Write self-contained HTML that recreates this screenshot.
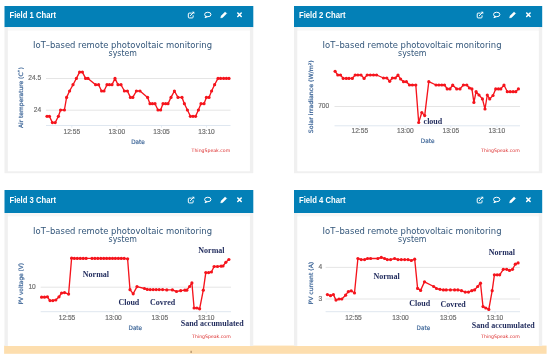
<!DOCTYPE html>
<html><head><meta charset="utf-8"><title>IoT-based remote photovoltaic monitoring system</title>
<style>html,body{margin:0;padding:0;background:#fff;overflow:hidden}svg{display:block;filter:blur(0.45px)}</style></head>
<body>
<svg width="550" height="359" viewBox="0 0 550 359">

<rect width="550" height="359" fill="#fff"/>
<rect x="4.1" y="345.6" width="542.5" height="8.2" fill="#fddeae"/>
<rect x="190.6" y="350.8" width="1" height="2.2" fill="#9a7a58"/>
<rect x="4.5" y="6.0" width="248.8" height="21.2" fill="#0380b7"/>
<rect x="4.5" y="27.2" width="248.8" height="146" fill="#f0f0f0"/>
<rect x="7.9" y="27.2" width="242.0" height="144" fill="#f7f7f7"/>
<rect x="7.9" y="30.599999999999998" width="242.0" height="140.6" fill="#fff"/>
<text x="9.5" y="17.6" font-family="'Liberation Sans', 'DejaVu Sans', sans-serif" font-weight="bold" font-size="8.2" fill="#fff" textLength="46.5" lengthAdjust="spacingAndGlyphs">Field 1 Chart</text>
<g transform="translate(190.90,15.00) scale(0.86)"><g fill="none" stroke="#fff" stroke-width="1.15" stroke-linecap="round" stroke-linejoin="round"><path d="M0.6,-2.2 h-2.6 a1,1 0 0 0 -1,1 v3.6 a1,1 0 0 0 1,1 h3.6 a1,1 0 0 0 1,-1 v-1.6"/><path d="M-0.6,0.8 L3.2,-3"/></g><path d="M1.0,-3.8 h3 v3 z" fill="#fff"/></g><g transform="translate(207.80,15.00) scale(0.86)"><g fill="none" stroke="#fff" stroke-width="1.15" stroke-linejoin="round"><ellipse cx="0" cy="-0.6" rx="3.7" ry="2.6"/><path d="M-2.2,1.4 L-3.2,3.2 L-0.4,2"/></g></g><g transform="translate(223.60,15.00) scale(0.86)"><path d="M-3.4,3.4 l0.6,-2.4 l4.6,-4.6 l1.8,1.8 l-4.6,4.6 z" fill="#fff" stroke="#fff" stroke-width="0.5" stroke-linejoin="round"/></g><g transform="translate(239.50,15.00) scale(0.86)"><path d="M-2,-2.3 L2,1.7 M2,-2.3 L-2,1.7" stroke="#fff" stroke-width="1.8" stroke-linecap="round"/></g>
<rect x="294.0" y="6.0" width="248.2" height="21.2" fill="#0380b7"/>
<rect x="294.0" y="27.2" width="248.2" height="146" fill="#f0f0f0"/>
<rect x="297.4" y="27.2" width="241.39999999999998" height="144" fill="#f7f7f7"/>
<rect x="297.4" y="30.599999999999998" width="241.39999999999998" height="140.6" fill="#fff"/>
<text x="299.0" y="17.6" font-family="'Liberation Sans', 'DejaVu Sans', sans-serif" font-weight="bold" font-size="8.2" fill="#fff" textLength="46.5" lengthAdjust="spacingAndGlyphs">Field 2 Chart</text>
<g transform="translate(479.80,15.00) scale(0.86)"><g fill="none" stroke="#fff" stroke-width="1.15" stroke-linecap="round" stroke-linejoin="round"><path d="M0.6,-2.2 h-2.6 a1,1 0 0 0 -1,1 v3.6 a1,1 0 0 0 1,1 h3.6 a1,1 0 0 0 1,-1 v-1.6"/><path d="M-0.6,0.8 L3.2,-3"/></g><path d="M1.0,-3.8 h3 v3 z" fill="#fff"/></g><g transform="translate(496.70,15.00) scale(0.86)"><g fill="none" stroke="#fff" stroke-width="1.15" stroke-linejoin="round"><ellipse cx="0" cy="-0.6" rx="3.7" ry="2.6"/><path d="M-2.2,1.4 L-3.2,3.2 L-0.4,2"/></g></g><g transform="translate(512.50,15.00) scale(0.86)"><path d="M-3.4,3.4 l0.6,-2.4 l4.6,-4.6 l1.8,1.8 l-4.6,4.6 z" fill="#fff" stroke="#fff" stroke-width="0.5" stroke-linejoin="round"/></g><g transform="translate(528.40,15.00) scale(0.86)"><path d="M-2,-2.3 L2,1.7 M2,-2.3 L-2,1.7" stroke="#fff" stroke-width="1.8" stroke-linecap="round"/></g>
<rect x="4.5" y="190" width="248.8" height="23" fill="#0380b7"/>
<rect x="4.5" y="213" width="248.8" height="133" fill="#f0f0f0"/>
<rect x="7.9" y="213" width="242.0" height="133" fill="#f7f7f7"/>
<rect x="7.9" y="216.4" width="242.0" height="129.6" fill="#fff"/>
<text x="9.5" y="202.9" font-family="'Liberation Sans', 'DejaVu Sans', sans-serif" font-weight="bold" font-size="8.2" fill="#fff" textLength="46.5" lengthAdjust="spacingAndGlyphs">Field 3 Chart</text>
<g transform="translate(190.90,200.00) scale(0.86)"><g fill="none" stroke="#fff" stroke-width="1.15" stroke-linecap="round" stroke-linejoin="round"><path d="M0.6,-2.2 h-2.6 a1,1 0 0 0 -1,1 v3.6 a1,1 0 0 0 1,1 h3.6 a1,1 0 0 0 1,-1 v-1.6"/><path d="M-0.6,0.8 L3.2,-3"/></g><path d="M1.0,-3.8 h3 v3 z" fill="#fff"/></g><g transform="translate(207.80,200.00) scale(0.86)"><g fill="none" stroke="#fff" stroke-width="1.15" stroke-linejoin="round"><ellipse cx="0" cy="-0.6" rx="3.7" ry="2.6"/><path d="M-2.2,1.4 L-3.2,3.2 L-0.4,2"/></g></g><g transform="translate(223.60,200.00) scale(0.86)"><path d="M-3.4,3.4 l0.6,-2.4 l4.6,-4.6 l1.8,1.8 l-4.6,4.6 z" fill="#fff" stroke="#fff" stroke-width="0.5" stroke-linejoin="round"/></g><g transform="translate(239.50,200.00) scale(0.86)"><path d="M-2,-2.3 L2,1.7 M2,-2.3 L-2,1.7" stroke="#fff" stroke-width="1.8" stroke-linecap="round"/></g>
<rect x="294.0" y="190" width="248.2" height="23" fill="#0380b7"/>
<rect x="294.0" y="213" width="248.2" height="133" fill="#f0f0f0"/>
<rect x="297.4" y="213" width="241.39999999999998" height="133" fill="#f7f7f7"/>
<rect x="297.4" y="216.4" width="241.39999999999998" height="129.6" fill="#fff"/>
<text x="299.0" y="202.9" font-family="'Liberation Sans', 'DejaVu Sans', sans-serif" font-weight="bold" font-size="8.2" fill="#fff" textLength="46.5" lengthAdjust="spacingAndGlyphs">Field 4 Chart</text>
<g transform="translate(479.80,200.00) scale(0.86)"><g fill="none" stroke="#fff" stroke-width="1.15" stroke-linecap="round" stroke-linejoin="round"><path d="M0.6,-2.2 h-2.6 a1,1 0 0 0 -1,1 v3.6 a1,1 0 0 0 1,1 h3.6 a1,1 0 0 0 1,-1 v-1.6"/><path d="M-0.6,0.8 L3.2,-3"/></g><path d="M1.0,-3.8 h3 v3 z" fill="#fff"/></g><g transform="translate(496.70,200.00) scale(0.86)"><g fill="none" stroke="#fff" stroke-width="1.15" stroke-linejoin="round"><ellipse cx="0" cy="-0.6" rx="3.7" ry="2.6"/><path d="M-2.2,1.4 L-3.2,3.2 L-0.4,2"/></g></g><g transform="translate(512.50,200.00) scale(0.86)"><path d="M-3.4,3.4 l0.6,-2.4 l4.6,-4.6 l1.8,1.8 l-4.6,4.6 z" fill="#fff" stroke="#fff" stroke-width="0.5" stroke-linejoin="round"/></g><g transform="translate(528.40,200.00) scale(0.86)"><path d="M-2,-2.3 L2,1.7 M2,-2.3 L-2,1.7" stroke="#fff" stroke-width="1.8" stroke-linecap="round"/></g>
<path d="M46,78.5 H230.5" stroke="#dedede" stroke-width="0.8"/>
<text x="41.1" y="80.4" text-anchor="end" font-family="'Liberation Sans', 'DejaVu Sans', sans-serif" font-size="6.9" fill="#707070" stroke="#707070" stroke-width="0.2" textLength="12.89" lengthAdjust="spacingAndGlyphs">24.5</text>
<path d="M46,110.2 H230.5" stroke="#dedede" stroke-width="0.8"/>
<text x="41.1" y="112.10000000000001" text-anchor="end" font-family="'Liberation Sans', 'DejaVu Sans', sans-serif" font-size="6.9" fill="#707070" stroke="#707070" stroke-width="0.2" textLength="7.37" lengthAdjust="spacingAndGlyphs">24</text>
<path d="M46,125.5 H230.5" stroke="#dbe4ee" stroke-width="0.9"/>
<text x="71.8" y="133.67" text-anchor="middle" font-family="'Liberation Sans', 'DejaVu Sans', sans-serif" font-size="6.9" fill="#707070" stroke="#707070" stroke-width="0.2" textLength="16.57" lengthAdjust="spacingAndGlyphs">12:55</text>
<path d="M71.8,125.5 v2" stroke="#dbe4ee" stroke-width="0.7"/>
<text x="116.8" y="133.67" text-anchor="middle" font-family="'Liberation Sans', 'DejaVu Sans', sans-serif" font-size="6.9" fill="#707070" stroke="#707070" stroke-width="0.2" textLength="16.57" lengthAdjust="spacingAndGlyphs">13:00</text>
<path d="M116.8,125.5 v2" stroke="#dbe4ee" stroke-width="0.7"/>
<text x="161.5" y="133.67" text-anchor="middle" font-family="'Liberation Sans', 'DejaVu Sans', sans-serif" font-size="6.9" fill="#707070" stroke="#707070" stroke-width="0.2" textLength="16.57" lengthAdjust="spacingAndGlyphs">13:05</text>
<path d="M161.5,125.5 v2" stroke="#dbe4ee" stroke-width="0.7"/>
<text x="206.5" y="133.67" text-anchor="middle" font-family="'Liberation Sans', 'DejaVu Sans', sans-serif" font-size="6.9" fill="#707070" stroke="#707070" stroke-width="0.2" textLength="16.57" lengthAdjust="spacingAndGlyphs">13:10</text>
<path d="M206.5,125.5 v2" stroke="#dbe4ee" stroke-width="0.7"/>
<text x="122.5" y="48.0" text-anchor="middle" font-family="'DejaVu Sans', 'Liberation Sans', sans-serif" font-size="8.5" fill="#33567a" textLength="179" lengthAdjust="spacingAndGlyphs">IoT–based remote photovoltaic monitoring</text>
<text x="122.8" y="56.2" text-anchor="middle" font-family="'DejaVu Sans', 'Liberation Sans', sans-serif" font-size="8.5" fill="#33567a" textLength="28.4" lengthAdjust="spacingAndGlyphs">system</text>
<text x="138" y="143.6" text-anchor="middle" font-family="'DejaVu Sans', 'Liberation Sans', sans-serif" font-size="6.2" fill="#41699a" stroke="#41699a" stroke-width="0.2" textLength="13.6" lengthAdjust="spacingAndGlyphs">Date</text>
<text x="230.2" y="152.0" text-anchor="end" font-family="'DejaVu Sans', 'Liberation Sans', sans-serif" font-size="4.6" fill="#dc2a2a" textLength="38.6" lengthAdjust="spacingAndGlyphs">ThingSpeak.com</text>
<text transform="translate(23.1,97.6) rotate(-90)" text-anchor="middle" font-family="'DejaVu Sans', 'Liberation Sans', sans-serif" font-size="5.9" fill="#41699a" stroke="#41699a" stroke-width="0.22" textLength="60.8" lengthAdjust="spacingAndGlyphs">Air temperature (C˚)</text>
<polyline points="47.0,116.3 49.4,116.3 52.4,122.6 55.2,122.6 58.4,116.3 60.6,110.0 64.4,110.0 66.6,97.4 69.6,91.0 73.0,84.7 76.4,78.4 79.6,72.1 82.4,72.1 85.6,78.4 88.0,78.4 95.6,84.7 98.6,84.7 101.6,91.0 104.0,91.0 107.0,84.7 109.4,84.7 112.0,84.7 115.0,78.4 118.0,84.7 121.0,84.7 124.4,91.0 127.4,91.0 130.4,97.4 132.8,97.4 136.4,91.0 140.0,91.0 147.6,97.4 150.0,103.7 152.4,103.7 155.0,103.7 158.0,110.0 160.6,110.0 163.0,103.7 165.6,103.7 168.0,103.7 171.0,97.4 174.4,91.0 178.0,97.4 182.0,97.4 184.4,103.7 187.4,110.0 190.4,116.3 193.0,116.3 195.6,116.3 198.4,110.0 201.0,103.7 204.0,103.7 206.4,97.4 209.0,97.4 211.6,91.0 214.6,84.7 218.0,78.4 220.6,78.4 223.6,78.4 226.4,78.4 229.0,78.4" fill="none" stroke="#f5141c" stroke-width="1.35" stroke-linejoin="round" stroke-linecap="round"/>
<circle cx="47.0" cy="116.3" r="1.6" fill="#f5141c"/>
<circle cx="49.4" cy="116.3" r="1.6" fill="#f5141c"/>
<circle cx="52.4" cy="122.6" r="1.6" fill="#f5141c"/>
<circle cx="55.2" cy="122.6" r="1.6" fill="#f5141c"/>
<circle cx="58.4" cy="116.3" r="1.6" fill="#f5141c"/>
<circle cx="60.6" cy="110.0" r="1.6" fill="#f5141c"/>
<circle cx="64.4" cy="110.0" r="1.6" fill="#f5141c"/>
<circle cx="66.6" cy="97.4" r="1.6" fill="#f5141c"/>
<circle cx="69.6" cy="91.0" r="1.6" fill="#f5141c"/>
<circle cx="73.0" cy="84.7" r="1.6" fill="#f5141c"/>
<circle cx="76.4" cy="78.4" r="1.6" fill="#f5141c"/>
<circle cx="79.6" cy="72.1" r="1.6" fill="#f5141c"/>
<circle cx="82.4" cy="72.1" r="1.6" fill="#f5141c"/>
<circle cx="85.6" cy="78.4" r="1.6" fill="#f5141c"/>
<circle cx="88.0" cy="78.4" r="1.6" fill="#f5141c"/>
<circle cx="95.6" cy="84.7" r="1.6" fill="#f5141c"/>
<circle cx="98.6" cy="84.7" r="1.6" fill="#f5141c"/>
<circle cx="101.6" cy="91.0" r="1.6" fill="#f5141c"/>
<circle cx="104.0" cy="91.0" r="1.6" fill="#f5141c"/>
<circle cx="107.0" cy="84.7" r="1.6" fill="#f5141c"/>
<circle cx="109.4" cy="84.7" r="1.6" fill="#f5141c"/>
<circle cx="112.0" cy="84.7" r="1.6" fill="#f5141c"/>
<circle cx="115.0" cy="78.4" r="1.6" fill="#f5141c"/>
<circle cx="118.0" cy="84.7" r="1.6" fill="#f5141c"/>
<circle cx="121.0" cy="84.7" r="1.6" fill="#f5141c"/>
<circle cx="124.4" cy="91.0" r="1.6" fill="#f5141c"/>
<circle cx="127.4" cy="91.0" r="1.6" fill="#f5141c"/>
<circle cx="130.4" cy="97.4" r="1.6" fill="#f5141c"/>
<circle cx="132.8" cy="97.4" r="1.6" fill="#f5141c"/>
<circle cx="136.4" cy="91.0" r="1.6" fill="#f5141c"/>
<circle cx="140.0" cy="91.0" r="1.6" fill="#f5141c"/>
<circle cx="147.6" cy="97.4" r="1.6" fill="#f5141c"/>
<circle cx="150.0" cy="103.7" r="1.6" fill="#f5141c"/>
<circle cx="152.4" cy="103.7" r="1.6" fill="#f5141c"/>
<circle cx="155.0" cy="103.7" r="1.6" fill="#f5141c"/>
<circle cx="158.0" cy="110.0" r="1.6" fill="#f5141c"/>
<circle cx="160.6" cy="110.0" r="1.6" fill="#f5141c"/>
<circle cx="163.0" cy="103.7" r="1.6" fill="#f5141c"/>
<circle cx="165.6" cy="103.7" r="1.6" fill="#f5141c"/>
<circle cx="168.0" cy="103.7" r="1.6" fill="#f5141c"/>
<circle cx="171.0" cy="97.4" r="1.6" fill="#f5141c"/>
<circle cx="174.4" cy="91.0" r="1.6" fill="#f5141c"/>
<circle cx="178.0" cy="97.4" r="1.6" fill="#f5141c"/>
<circle cx="182.0" cy="97.4" r="1.6" fill="#f5141c"/>
<circle cx="184.4" cy="103.7" r="1.6" fill="#f5141c"/>
<circle cx="187.4" cy="110.0" r="1.6" fill="#f5141c"/>
<circle cx="190.4" cy="116.3" r="1.6" fill="#f5141c"/>
<circle cx="193.0" cy="116.3" r="1.6" fill="#f5141c"/>
<circle cx="195.6" cy="116.3" r="1.6" fill="#f5141c"/>
<circle cx="198.4" cy="110.0" r="1.6" fill="#f5141c"/>
<circle cx="201.0" cy="103.7" r="1.6" fill="#f5141c"/>
<circle cx="204.0" cy="103.7" r="1.6" fill="#f5141c"/>
<circle cx="206.4" cy="97.4" r="1.6" fill="#f5141c"/>
<circle cx="209.0" cy="97.4" r="1.6" fill="#f5141c"/>
<circle cx="211.6" cy="91.0" r="1.6" fill="#f5141c"/>
<circle cx="214.6" cy="84.7" r="1.6" fill="#f5141c"/>
<circle cx="218.0" cy="78.4" r="1.6" fill="#f5141c"/>
<circle cx="220.6" cy="78.4" r="1.6" fill="#f5141c"/>
<circle cx="223.6" cy="78.4" r="1.6" fill="#f5141c"/>
<circle cx="226.4" cy="78.4" r="1.6" fill="#f5141c"/>
<circle cx="229.0" cy="78.4" r="1.6" fill="#f5141c"/>
<path d="M334.5,106.5 H520" stroke="#dedede" stroke-width="0.8"/>
<text x="329.20000000000005" y="108.4" text-anchor="end" font-family="'Liberation Sans', 'DejaVu Sans', sans-serif" font-size="6.9" fill="#707070" stroke="#707070" stroke-width="0.2" textLength="11.05" lengthAdjust="spacingAndGlyphs">700</text>
<path d="M334.5,125.8 H520" stroke="#dbe4ee" stroke-width="0.9"/>
<text x="359.8" y="133.47" text-anchor="middle" font-family="'Liberation Sans', 'DejaVu Sans', sans-serif" font-size="6.9" fill="#707070" stroke="#707070" stroke-width="0.2" textLength="16.57" lengthAdjust="spacingAndGlyphs">12:55</text>
<path d="M359.8,125.8 v2" stroke="#dbe4ee" stroke-width="0.7"/>
<text x="405.3" y="133.47" text-anchor="middle" font-family="'Liberation Sans', 'DejaVu Sans', sans-serif" font-size="6.9" fill="#707070" stroke="#707070" stroke-width="0.2" textLength="16.57" lengthAdjust="spacingAndGlyphs">13:00</text>
<path d="M405.3,125.8 v2" stroke="#dbe4ee" stroke-width="0.7"/>
<text x="450.8" y="133.47" text-anchor="middle" font-family="'Liberation Sans', 'DejaVu Sans', sans-serif" font-size="6.9" fill="#707070" stroke="#707070" stroke-width="0.2" textLength="16.57" lengthAdjust="spacingAndGlyphs">13:05</text>
<path d="M450.8,125.8 v2" stroke="#dbe4ee" stroke-width="0.7"/>
<text x="496.9" y="133.47" text-anchor="middle" font-family="'Liberation Sans', 'DejaVu Sans', sans-serif" font-size="6.9" fill="#707070" stroke="#707070" stroke-width="0.2" textLength="16.57" lengthAdjust="spacingAndGlyphs">13:10</text>
<path d="M496.9,125.8 v2" stroke="#dbe4ee" stroke-width="0.7"/>
<text x="412" y="48.0" text-anchor="middle" font-family="'DejaVu Sans', 'Liberation Sans', sans-serif" font-size="8.5" fill="#33567a" textLength="179" lengthAdjust="spacingAndGlyphs">IoT–based remote photovoltaic monitoring</text>
<text x="412.3" y="56.2" text-anchor="middle" font-family="'DejaVu Sans', 'Liberation Sans', sans-serif" font-size="8.5" fill="#33567a" textLength="28.4" lengthAdjust="spacingAndGlyphs">system</text>
<text x="427.6" y="143.4" text-anchor="middle" font-family="'DejaVu Sans', 'Liberation Sans', sans-serif" font-size="6.2" fill="#41699a" stroke="#41699a" stroke-width="0.2" textLength="13.6" lengthAdjust="spacingAndGlyphs">Date</text>
<text x="519.7" y="152.3" text-anchor="end" font-family="'DejaVu Sans', 'Liberation Sans', sans-serif" font-size="4.6" fill="#dc2a2a" textLength="38.6" lengthAdjust="spacingAndGlyphs">ThingSpeak.com</text>
<text transform="translate(313.0,96.7) rotate(-90)" text-anchor="middle" font-family="'DejaVu Sans', 'Liberation Sans', sans-serif" font-size="5.9" fill="#41699a" stroke="#41699a" stroke-width="0.22" textLength="73" lengthAdjust="spacingAndGlyphs">Solar irradiance (W/m²)</text>
<polyline points="335.1,71.3 337.8,75.0 340.5,75.0 343.2,78.4 346.3,78.4 349.0,78.4 352.3,78.4 355.2,75.0 357.9,75.0 361.0,75.0 364.1,78.4 367.2,75.0 370.3,75.0 373.5,75.0 376.6,75.0 383.5,78.0 386.8,78.0 389.7,81.3 392.4,78.0 395.3,78.0 398.0,75.0 400.6,79.0 403.5,81.7 406.4,81.7 409.5,85.0 412.4,85.0 415.8,85.0 418.7,122.5 421.8,112.5 424.7,115.6 428.8,81.7 436.0,85.0 438.9,85.0 441.8,85.0 444.5,85.0 447.2,88.9 450.0,88.9 452.7,85.0 456.7,88.9 460.0,88.9 463.4,85.0 466.8,85.0 469.4,88.0 471.9,88.9 473.9,102.4 476.1,91.7 479.0,95.0 482.4,98.9 485.0,109.0 487.3,95.0 489.7,98.9 493.0,95.5 495.7,88.9 498.4,88.9 500.8,88.9 504.0,85.0 507.3,91.7 510.2,91.7 513.1,91.7 515.8,91.7 518.4,88.9" fill="none" stroke="#f5141c" stroke-width="1.35" stroke-linejoin="round" stroke-linecap="round"/>
<circle cx="335.1" cy="71.3" r="1.6" fill="#f5141c"/>
<circle cx="337.8" cy="75.0" r="1.6" fill="#f5141c"/>
<circle cx="340.5" cy="75.0" r="1.6" fill="#f5141c"/>
<circle cx="343.2" cy="78.4" r="1.6" fill="#f5141c"/>
<circle cx="346.3" cy="78.4" r="1.6" fill="#f5141c"/>
<circle cx="349.0" cy="78.4" r="1.6" fill="#f5141c"/>
<circle cx="352.3" cy="78.4" r="1.6" fill="#f5141c"/>
<circle cx="355.2" cy="75.0" r="1.6" fill="#f5141c"/>
<circle cx="357.9" cy="75.0" r="1.6" fill="#f5141c"/>
<circle cx="361.0" cy="75.0" r="1.6" fill="#f5141c"/>
<circle cx="364.1" cy="78.4" r="1.6" fill="#f5141c"/>
<circle cx="367.2" cy="75.0" r="1.6" fill="#f5141c"/>
<circle cx="370.3" cy="75.0" r="1.6" fill="#f5141c"/>
<circle cx="373.5" cy="75.0" r="1.6" fill="#f5141c"/>
<circle cx="376.6" cy="75.0" r="1.6" fill="#f5141c"/>
<circle cx="383.5" cy="78.0" r="1.6" fill="#f5141c"/>
<circle cx="386.8" cy="78.0" r="1.6" fill="#f5141c"/>
<circle cx="389.7" cy="81.3" r="1.6" fill="#f5141c"/>
<circle cx="392.4" cy="78.0" r="1.6" fill="#f5141c"/>
<circle cx="395.3" cy="78.0" r="1.6" fill="#f5141c"/>
<circle cx="398.0" cy="75.0" r="1.6" fill="#f5141c"/>
<circle cx="400.6" cy="79.0" r="1.6" fill="#f5141c"/>
<circle cx="403.5" cy="81.7" r="1.6" fill="#f5141c"/>
<circle cx="406.4" cy="81.7" r="1.6" fill="#f5141c"/>
<circle cx="409.5" cy="85.0" r="1.6" fill="#f5141c"/>
<circle cx="412.4" cy="85.0" r="1.6" fill="#f5141c"/>
<circle cx="415.8" cy="85.0" r="1.6" fill="#f5141c"/>
<circle cx="418.7" cy="122.5" r="1.6" fill="#f5141c"/>
<circle cx="421.8" cy="112.5" r="1.6" fill="#f5141c"/>
<circle cx="424.7" cy="115.6" r="1.6" fill="#f5141c"/>
<circle cx="428.8" cy="81.7" r="1.6" fill="#f5141c"/>
<circle cx="436.0" cy="85.0" r="1.6" fill="#f5141c"/>
<circle cx="438.9" cy="85.0" r="1.6" fill="#f5141c"/>
<circle cx="441.8" cy="85.0" r="1.6" fill="#f5141c"/>
<circle cx="444.5" cy="85.0" r="1.6" fill="#f5141c"/>
<circle cx="447.2" cy="88.9" r="1.6" fill="#f5141c"/>
<circle cx="450.0" cy="88.9" r="1.6" fill="#f5141c"/>
<circle cx="452.7" cy="85.0" r="1.6" fill="#f5141c"/>
<circle cx="456.7" cy="88.9" r="1.6" fill="#f5141c"/>
<circle cx="460.0" cy="88.9" r="1.6" fill="#f5141c"/>
<circle cx="463.4" cy="85.0" r="1.6" fill="#f5141c"/>
<circle cx="466.8" cy="85.0" r="1.6" fill="#f5141c"/>
<circle cx="469.4" cy="88.0" r="1.6" fill="#f5141c"/>
<circle cx="471.9" cy="88.9" r="1.6" fill="#f5141c"/>
<circle cx="473.9" cy="102.4" r="1.6" fill="#f5141c"/>
<circle cx="476.1" cy="91.7" r="1.6" fill="#f5141c"/>
<circle cx="479.0" cy="95.0" r="1.6" fill="#f5141c"/>
<circle cx="482.4" cy="98.9" r="1.6" fill="#f5141c"/>
<circle cx="485.0" cy="109.0" r="1.6" fill="#f5141c"/>
<circle cx="487.3" cy="95.0" r="1.6" fill="#f5141c"/>
<circle cx="489.7" cy="98.9" r="1.6" fill="#f5141c"/>
<circle cx="493.0" cy="95.5" r="1.6" fill="#f5141c"/>
<circle cx="495.7" cy="88.9" r="1.6" fill="#f5141c"/>
<circle cx="498.4" cy="88.9" r="1.6" fill="#f5141c"/>
<circle cx="500.8" cy="88.9" r="1.6" fill="#f5141c"/>
<circle cx="504.0" cy="85.0" r="1.6" fill="#f5141c"/>
<circle cx="507.3" cy="91.7" r="1.6" fill="#f5141c"/>
<circle cx="510.2" cy="91.7" r="1.6" fill="#f5141c"/>
<circle cx="513.1" cy="91.7" r="1.6" fill="#f5141c"/>
<circle cx="515.8" cy="91.7" r="1.6" fill="#f5141c"/>
<circle cx="518.4" cy="88.9" r="1.6" fill="#f5141c"/>
<path d="M40.7,287.2 H231" stroke="#dedede" stroke-width="0.8"/>
<text x="35.800000000000004" y="289.09999999999997" text-anchor="end" font-family="'Liberation Sans', 'DejaVu Sans', sans-serif" font-size="6.9" fill="#707070" stroke="#707070" stroke-width="0.2" textLength="7.37" lengthAdjust="spacingAndGlyphs">10</text>
<path d="M40.7,311.7 H231" stroke="#dbe4ee" stroke-width="0.9"/>
<text x="67" y="319.77000000000004" text-anchor="middle" font-family="'Liberation Sans', 'DejaVu Sans', sans-serif" font-size="6.9" fill="#707070" stroke="#707070" stroke-width="0.2" textLength="16.57" lengthAdjust="spacingAndGlyphs">12:55</text>
<path d="M67,311.7 v2" stroke="#dbe4ee" stroke-width="0.7"/>
<text x="113.5" y="319.77000000000004" text-anchor="middle" font-family="'Liberation Sans', 'DejaVu Sans', sans-serif" font-size="6.9" fill="#707070" stroke="#707070" stroke-width="0.2" textLength="16.57" lengthAdjust="spacingAndGlyphs">13:00</text>
<path d="M113.5,311.7 v2" stroke="#dbe4ee" stroke-width="0.7"/>
<text x="159.8" y="319.77000000000004" text-anchor="middle" font-family="'Liberation Sans', 'DejaVu Sans', sans-serif" font-size="6.9" fill="#707070" stroke="#707070" stroke-width="0.2" textLength="16.57" lengthAdjust="spacingAndGlyphs">13:05</text>
<path d="M159.8,311.7 v2" stroke="#dbe4ee" stroke-width="0.7"/>
<text x="206.2" y="319.77000000000004" text-anchor="middle" font-family="'Liberation Sans', 'DejaVu Sans', sans-serif" font-size="6.9" fill="#707070" stroke="#707070" stroke-width="0.2" textLength="16.57" lengthAdjust="spacingAndGlyphs">13:10</text>
<path d="M206.2,311.7 v2" stroke="#dbe4ee" stroke-width="0.7"/>
<text x="122.5" y="233.7" text-anchor="middle" font-family="'DejaVu Sans', 'Liberation Sans', sans-serif" font-size="8.5" fill="#33567a" textLength="179" lengthAdjust="spacingAndGlyphs">IoT–based remote photovoltaic monitoring</text>
<text x="122.8" y="241.89999999999998" text-anchor="middle" font-family="'DejaVu Sans', 'Liberation Sans', sans-serif" font-size="8.5" fill="#33567a" textLength="28.4" lengthAdjust="spacingAndGlyphs">system</text>
<text x="135.3" y="329.7" text-anchor="middle" font-family="'DejaVu Sans', 'Liberation Sans', sans-serif" font-size="6.2" fill="#41699a" stroke="#41699a" stroke-width="0.2" textLength="13.6" lengthAdjust="spacingAndGlyphs">Date</text>
<text x="230.7" y="338.2" text-anchor="end" font-family="'DejaVu Sans', 'Liberation Sans', sans-serif" font-size="4.6" fill="#dc2a2a" textLength="38.6" lengthAdjust="spacingAndGlyphs">ThingSpeak.com</text>
<text transform="translate(23.0,283.7) rotate(-90)" text-anchor="middle" font-family="'DejaVu Sans', 'Liberation Sans', sans-serif" font-size="5.9" fill="#41699a" stroke="#41699a" stroke-width="0.22" textLength="41.5" lengthAdjust="spacingAndGlyphs">PV voltage (V)</text>
<polyline points="41.6,297.2 44.5,297.2 47.4,296.8 50.0,300.6 52.9,300.6 55.8,300.0 59.0,296.8 61.6,293.0 64.5,292.6 68.6,294.1 71.6,258.2 74.4,258.4 77.3,258.4 80.3,258.4 83.2,258.4 86.1,258.4 92.0,258.4 94.9,258.4 97.8,258.4 100.8,258.4 103.7,258.4 106.6,258.4 109.6,258.4 112.5,258.4 115.4,258.4 118.4,258.4 121.3,258.4 124.2,258.4 127.6,258.8 130.0,289.7 133.2,293.8 137.0,286.6 144.5,288.5 147.3,289.4 150.2,289.6 153.2,289.6 156.2,289.6 159.2,289.6 162.6,289.6 166.8,289.9 172.4,289.9 176.5,291.5 180.7,290.7 184.9,290.2 186.8,290.2 189.6,286.5 191.9,282.9 194.1,308.0 196.9,308.0 199.6,308.8 203.3,290.2 205.8,272.6 208.6,272.6 211.4,272.0 214.1,266.5 217.5,266.5 221.1,266.2 223.0,266.0 225.8,262.3 228.9,259.5" fill="none" stroke="#f5141c" stroke-width="1.35" stroke-linejoin="round" stroke-linecap="round"/>
<circle cx="41.6" cy="297.2" r="1.6" fill="#f5141c"/>
<circle cx="44.5" cy="297.2" r="1.6" fill="#f5141c"/>
<circle cx="47.4" cy="296.8" r="1.6" fill="#f5141c"/>
<circle cx="50.0" cy="300.6" r="1.6" fill="#f5141c"/>
<circle cx="52.9" cy="300.6" r="1.6" fill="#f5141c"/>
<circle cx="55.8" cy="300.0" r="1.6" fill="#f5141c"/>
<circle cx="59.0" cy="296.8" r="1.6" fill="#f5141c"/>
<circle cx="61.6" cy="293.0" r="1.6" fill="#f5141c"/>
<circle cx="64.5" cy="292.6" r="1.6" fill="#f5141c"/>
<circle cx="68.6" cy="294.1" r="1.6" fill="#f5141c"/>
<circle cx="71.6" cy="258.2" r="1.6" fill="#f5141c"/>
<circle cx="74.4" cy="258.4" r="1.6" fill="#f5141c"/>
<circle cx="77.3" cy="258.4" r="1.6" fill="#f5141c"/>
<circle cx="80.3" cy="258.4" r="1.6" fill="#f5141c"/>
<circle cx="83.2" cy="258.4" r="1.6" fill="#f5141c"/>
<circle cx="86.1" cy="258.4" r="1.6" fill="#f5141c"/>
<circle cx="92.0" cy="258.4" r="1.6" fill="#f5141c"/>
<circle cx="94.9" cy="258.4" r="1.6" fill="#f5141c"/>
<circle cx="97.8" cy="258.4" r="1.6" fill="#f5141c"/>
<circle cx="100.8" cy="258.4" r="1.6" fill="#f5141c"/>
<circle cx="103.7" cy="258.4" r="1.6" fill="#f5141c"/>
<circle cx="106.6" cy="258.4" r="1.6" fill="#f5141c"/>
<circle cx="109.6" cy="258.4" r="1.6" fill="#f5141c"/>
<circle cx="112.5" cy="258.4" r="1.6" fill="#f5141c"/>
<circle cx="115.4" cy="258.4" r="1.6" fill="#f5141c"/>
<circle cx="118.4" cy="258.4" r="1.6" fill="#f5141c"/>
<circle cx="121.3" cy="258.4" r="1.6" fill="#f5141c"/>
<circle cx="124.2" cy="258.4" r="1.6" fill="#f5141c"/>
<circle cx="127.6" cy="258.8" r="1.6" fill="#f5141c"/>
<circle cx="130.0" cy="289.7" r="1.6" fill="#f5141c"/>
<circle cx="133.2" cy="293.8" r="1.6" fill="#f5141c"/>
<circle cx="137.0" cy="286.6" r="1.6" fill="#f5141c"/>
<circle cx="144.5" cy="288.5" r="1.6" fill="#f5141c"/>
<circle cx="147.3" cy="289.4" r="1.6" fill="#f5141c"/>
<circle cx="150.2" cy="289.6" r="1.6" fill="#f5141c"/>
<circle cx="153.2" cy="289.6" r="1.6" fill="#f5141c"/>
<circle cx="156.2" cy="289.6" r="1.6" fill="#f5141c"/>
<circle cx="159.2" cy="289.6" r="1.6" fill="#f5141c"/>
<circle cx="162.6" cy="289.6" r="1.6" fill="#f5141c"/>
<circle cx="166.8" cy="289.9" r="1.6" fill="#f5141c"/>
<circle cx="172.4" cy="289.9" r="1.6" fill="#f5141c"/>
<circle cx="176.5" cy="291.5" r="1.6" fill="#f5141c"/>
<circle cx="180.7" cy="290.7" r="1.6" fill="#f5141c"/>
<circle cx="184.9" cy="290.2" r="1.6" fill="#f5141c"/>
<circle cx="186.8" cy="290.2" r="1.6" fill="#f5141c"/>
<circle cx="189.6" cy="286.5" r="1.6" fill="#f5141c"/>
<circle cx="191.9" cy="282.9" r="1.6" fill="#f5141c"/>
<circle cx="194.1" cy="308.0" r="1.6" fill="#f5141c"/>
<circle cx="196.9" cy="308.0" r="1.6" fill="#f5141c"/>
<circle cx="199.6" cy="308.8" r="1.6" fill="#f5141c"/>
<circle cx="203.3" cy="290.2" r="1.6" fill="#f5141c"/>
<circle cx="205.8" cy="272.6" r="1.6" fill="#f5141c"/>
<circle cx="208.6" cy="272.6" r="1.6" fill="#f5141c"/>
<circle cx="211.4" cy="272.0" r="1.6" fill="#f5141c"/>
<circle cx="214.1" cy="266.5" r="1.6" fill="#f5141c"/>
<circle cx="217.5" cy="266.5" r="1.6" fill="#f5141c"/>
<circle cx="221.1" cy="266.2" r="1.6" fill="#f5141c"/>
<circle cx="223.0" cy="266.0" r="1.6" fill="#f5141c"/>
<circle cx="225.8" cy="262.3" r="1.6" fill="#f5141c"/>
<circle cx="228.9" cy="259.5" r="1.6" fill="#f5141c"/>
<path d="M325.6,267.4 H520" stroke="#dedede" stroke-width="0.8"/>
<text x="322.30000000000007" y="269.29999999999995" text-anchor="end" font-family="'Liberation Sans', 'DejaVu Sans', sans-serif" font-size="6.9" fill="#707070" stroke="#707070" stroke-width="0.2" textLength="3.68" lengthAdjust="spacingAndGlyphs">4</text>
<path d="M325.6,299 H520" stroke="#dedede" stroke-width="0.8"/>
<text x="322.30000000000007" y="300.9" text-anchor="end" font-family="'Liberation Sans', 'DejaVu Sans', sans-serif" font-size="6.9" fill="#707070" stroke="#707070" stroke-width="0.2" textLength="3.68" lengthAdjust="spacingAndGlyphs">3</text>
<path d="M325.6,311.7 H520" stroke="#dbe4ee" stroke-width="0.9"/>
<text x="353.5" y="319.77000000000004" text-anchor="middle" font-family="'Liberation Sans', 'DejaVu Sans', sans-serif" font-size="6.9" fill="#707070" stroke="#707070" stroke-width="0.2" textLength="16.57" lengthAdjust="spacingAndGlyphs">12:55</text>
<path d="M353.5,311.7 v2" stroke="#dbe4ee" stroke-width="0.7"/>
<text x="400.5" y="319.77000000000004" text-anchor="middle" font-family="'Liberation Sans', 'DejaVu Sans', sans-serif" font-size="6.9" fill="#707070" stroke="#707070" stroke-width="0.2" textLength="16.57" lengthAdjust="spacingAndGlyphs">13:00</text>
<path d="M400.5,311.7 v2" stroke="#dbe4ee" stroke-width="0.7"/>
<text x="448.2" y="319.77000000000004" text-anchor="middle" font-family="'Liberation Sans', 'DejaVu Sans', sans-serif" font-size="6.9" fill="#707070" stroke="#707070" stroke-width="0.2" textLength="16.57" lengthAdjust="spacingAndGlyphs">13:05</text>
<path d="M448.2,311.7 v2" stroke="#dbe4ee" stroke-width="0.7"/>
<text x="495" y="319.77000000000004" text-anchor="middle" font-family="'Liberation Sans', 'DejaVu Sans', sans-serif" font-size="6.9" fill="#707070" stroke="#707070" stroke-width="0.2" textLength="16.57" lengthAdjust="spacingAndGlyphs">13:10</text>
<path d="M495,311.7 v2" stroke="#dbe4ee" stroke-width="0.7"/>
<text x="412" y="233.7" text-anchor="middle" font-family="'DejaVu Sans', 'Liberation Sans', sans-serif" font-size="8.5" fill="#33567a" textLength="179" lengthAdjust="spacingAndGlyphs">IoT–based remote photovoltaic monitoring</text>
<text x="412.3" y="241.89999999999998" text-anchor="middle" font-family="'DejaVu Sans', 'Liberation Sans', sans-serif" font-size="8.5" fill="#33567a" textLength="28.4" lengthAdjust="spacingAndGlyphs">system</text>
<text x="423.4" y="329.7" text-anchor="middle" font-family="'DejaVu Sans', 'Liberation Sans', sans-serif" font-size="6.2" fill="#41699a" stroke="#41699a" stroke-width="0.2" textLength="13.6" lengthAdjust="spacingAndGlyphs">Date</text>
<text x="519.7" y="338.2" text-anchor="end" font-family="'DejaVu Sans', 'Liberation Sans', sans-serif" font-size="4.6" fill="#dc2a2a" textLength="38.6" lengthAdjust="spacingAndGlyphs">ThingSpeak.com</text>
<text transform="translate(312.5,283.1) rotate(-90)" text-anchor="middle" font-family="'DejaVu Sans', 'Liberation Sans', sans-serif" font-size="5.9" fill="#41699a" stroke="#41699a" stroke-width="0.22" textLength="42.7" lengthAdjust="spacingAndGlyphs">PV current (A)</text>
<polyline points="327.4,294.6 330.5,295.7 333.4,294.6 336.0,300.1 339.0,299.0 341.8,299.0 345.6,295.2 348.3,291.7 351.2,290.8 354.5,293.0 357.9,258.5 361.2,259.6 364.6,259.6 367.5,258.5 370.6,258.5 377.9,258.5 381.3,257.4 384.6,258.5 387.3,259.6 390.6,259.6 394.6,258.5 398.0,259.6 401.3,259.6 404.7,259.6 408.0,259.6 411.3,260.5 414.7,259.2 417.6,288.4 420.6,290.4 424.5,281.8 433.7,286.5 436.5,288.5 440.0,289.3 443.4,289.9 446.2,289.9 450.4,289.9 454.6,289.9 457.9,289.9 461.5,290.7 465.2,292.1 468.5,292.1 471.8,290.7 474.6,289.9 477.7,286.5 480.5,283.2 483.0,306.6 485.8,308.0 488.8,309.4 492.2,290.7 494.4,274.8 497.2,274.8 499.7,274.8 503.3,269.3 506.7,269.3 509.5,270.4 512.5,269.3 515.3,264.2 518.1,262.9" fill="none" stroke="#f5141c" stroke-width="1.35" stroke-linejoin="round" stroke-linecap="round"/>
<circle cx="327.4" cy="294.6" r="1.6" fill="#f5141c"/>
<circle cx="330.5" cy="295.7" r="1.6" fill="#f5141c"/>
<circle cx="333.4" cy="294.6" r="1.6" fill="#f5141c"/>
<circle cx="336.0" cy="300.1" r="1.6" fill="#f5141c"/>
<circle cx="339.0" cy="299.0" r="1.6" fill="#f5141c"/>
<circle cx="341.8" cy="299.0" r="1.6" fill="#f5141c"/>
<circle cx="345.6" cy="295.2" r="1.6" fill="#f5141c"/>
<circle cx="348.3" cy="291.7" r="1.6" fill="#f5141c"/>
<circle cx="351.2" cy="290.8" r="1.6" fill="#f5141c"/>
<circle cx="354.5" cy="293.0" r="1.6" fill="#f5141c"/>
<circle cx="357.9" cy="258.5" r="1.6" fill="#f5141c"/>
<circle cx="361.2" cy="259.6" r="1.6" fill="#f5141c"/>
<circle cx="364.6" cy="259.6" r="1.6" fill="#f5141c"/>
<circle cx="367.5" cy="258.5" r="1.6" fill="#f5141c"/>
<circle cx="370.6" cy="258.5" r="1.6" fill="#f5141c"/>
<circle cx="377.9" cy="258.5" r="1.6" fill="#f5141c"/>
<circle cx="381.3" cy="257.4" r="1.6" fill="#f5141c"/>
<circle cx="384.6" cy="258.5" r="1.6" fill="#f5141c"/>
<circle cx="387.3" cy="259.6" r="1.6" fill="#f5141c"/>
<circle cx="390.6" cy="259.6" r="1.6" fill="#f5141c"/>
<circle cx="394.6" cy="258.5" r="1.6" fill="#f5141c"/>
<circle cx="398.0" cy="259.6" r="1.6" fill="#f5141c"/>
<circle cx="401.3" cy="259.6" r="1.6" fill="#f5141c"/>
<circle cx="404.7" cy="259.6" r="1.6" fill="#f5141c"/>
<circle cx="408.0" cy="259.6" r="1.6" fill="#f5141c"/>
<circle cx="411.3" cy="260.5" r="1.6" fill="#f5141c"/>
<circle cx="414.7" cy="259.2" r="1.6" fill="#f5141c"/>
<circle cx="417.6" cy="288.4" r="1.6" fill="#f5141c"/>
<circle cx="420.6" cy="290.4" r="1.6" fill="#f5141c"/>
<circle cx="424.5" cy="281.8" r="1.6" fill="#f5141c"/>
<circle cx="433.7" cy="286.5" r="1.6" fill="#f5141c"/>
<circle cx="436.5" cy="288.5" r="1.6" fill="#f5141c"/>
<circle cx="440.0" cy="289.3" r="1.6" fill="#f5141c"/>
<circle cx="443.4" cy="289.9" r="1.6" fill="#f5141c"/>
<circle cx="446.2" cy="289.9" r="1.6" fill="#f5141c"/>
<circle cx="450.4" cy="289.9" r="1.6" fill="#f5141c"/>
<circle cx="454.6" cy="289.9" r="1.6" fill="#f5141c"/>
<circle cx="457.9" cy="289.9" r="1.6" fill="#f5141c"/>
<circle cx="461.5" cy="290.7" r="1.6" fill="#f5141c"/>
<circle cx="465.2" cy="292.1" r="1.6" fill="#f5141c"/>
<circle cx="468.5" cy="292.1" r="1.6" fill="#f5141c"/>
<circle cx="471.8" cy="290.7" r="1.6" fill="#f5141c"/>
<circle cx="474.6" cy="289.9" r="1.6" fill="#f5141c"/>
<circle cx="477.7" cy="286.5" r="1.6" fill="#f5141c"/>
<circle cx="480.5" cy="283.2" r="1.6" fill="#f5141c"/>
<circle cx="483.0" cy="306.6" r="1.6" fill="#f5141c"/>
<circle cx="485.8" cy="308.0" r="1.6" fill="#f5141c"/>
<circle cx="488.8" cy="309.4" r="1.6" fill="#f5141c"/>
<circle cx="492.2" cy="290.7" r="1.6" fill="#f5141c"/>
<circle cx="494.4" cy="274.8" r="1.6" fill="#f5141c"/>
<circle cx="497.2" cy="274.8" r="1.6" fill="#f5141c"/>
<circle cx="499.7" cy="274.8" r="1.6" fill="#f5141c"/>
<circle cx="503.3" cy="269.3" r="1.6" fill="#f5141c"/>
<circle cx="506.7" cy="269.3" r="1.6" fill="#f5141c"/>
<circle cx="509.5" cy="270.4" r="1.6" fill="#f5141c"/>
<circle cx="512.5" cy="269.3" r="1.6" fill="#f5141c"/>
<circle cx="515.3" cy="264.2" r="1.6" fill="#f5141c"/>
<circle cx="518.1" cy="262.9" r="1.6" fill="#f5141c"/>
<text x="423.6" y="124.4" font-family="'Liberation Serif', 'DejaVu Serif', serif" font-weight="bold" font-size="8" fill="#1f2a5c">cloud</text>
<text x="82.8" y="277" font-family="'Liberation Serif', 'DejaVu Serif', serif" font-weight="bold" font-size="8" fill="#1f2a5c">Normal</text>
<text x="118.4" y="304.8" font-family="'Liberation Serif', 'DejaVu Serif', serif" font-weight="bold" font-size="8" fill="#1f2a5c">Cloud</text>
<text x="150" y="305.1" font-family="'Liberation Serif', 'DejaVu Serif', serif" font-weight="bold" font-size="8" fill="#1f2a5c">Covred</text>
<text x="198.3" y="253.1" font-family="'Liberation Serif', 'DejaVu Serif', serif" font-weight="bold" font-size="8" fill="#1f2a5c">Normal</text>
<text x="180.7" y="326.1" font-family="'Liberation Serif', 'DejaVu Serif', serif" font-weight="bold" font-size="8" fill="#1f2a5c">Sand accumulated</text>
<text x="373.5" y="278.6" font-family="'Liberation Serif', 'DejaVu Serif', serif" font-weight="bold" font-size="8" fill="#1f2a5c">Normal</text>
<text x="409.3" y="306.4" font-family="'Liberation Serif', 'DejaVu Serif', serif" font-weight="bold" font-size="8" fill="#1f2a5c">Cloud</text>
<text x="440.6" y="307" font-family="'Liberation Serif', 'DejaVu Serif', serif" font-weight="bold" font-size="8" fill="#1f2a5c">Covred</text>
<text x="488.8" y="255" font-family="'Liberation Serif', 'DejaVu Serif', serif" font-weight="bold" font-size="8" fill="#1f2a5c">Normal</text>
<text x="471.8" y="328.2" font-family="'Liberation Serif', 'DejaVu Serif', serif" font-weight="bold" font-size="8" fill="#1f2a5c">Sand accumulated</text>

</svg>
</body></html>
